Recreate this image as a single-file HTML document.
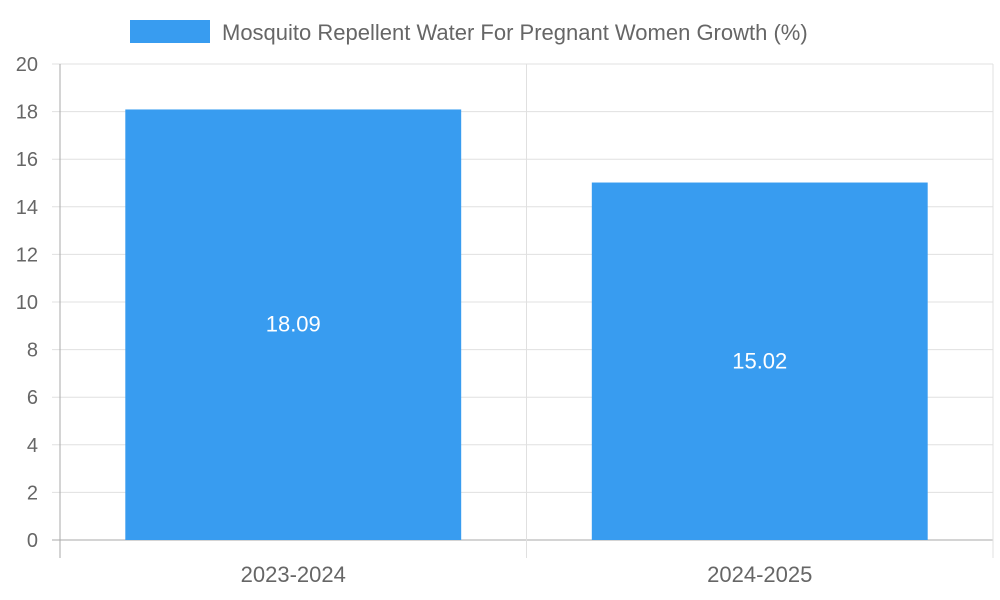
<!DOCTYPE html>
<html><head><meta charset="utf-8"><style>
html,body{margin:0;padding:0;background:#fff;}
svg{display:block;font-family:"Liberation Sans",sans-serif;}
</style></head><body>
<svg id="chart" width="1000" height="600"></svg>
<script>
const categories = ["2023-2024", "2024-2025"];
const values = [18.09, 15.02];
const yTicks = [0, 2, 4, 6, 8, 10, 12, 14, 16, 18, 20];
const seriesName = "Mosquito Repellent Water For Pregnant Women Growth (%)";

const NS = "http://www.w3.org/2000/svg";
const svg = document.getElementById("chart");
const L = 60, R = 993, T = 64, B = 540, yMax = 20;
const y = v => B - (v / yMax) * (B - T);
const band = (R - L) / categories.length;
const xc = i => L + band * (i + 0.5);
function mk(tag, attrs, text) {
  const e = document.createElementNS(NS, tag);
  for (const k in attrs) e.setAttribute(k, attrs[k]);
  if (text !== undefined) e.textContent = text;
  svg.appendChild(e);
  return e;
}
// horizontal grid + y labels
yTicks.forEach(t => {
  const g = mk("line", {x1: L - 8, x2: R, y1: y(t), y2: y(t), stroke: t === 0 ? "#aaa" : "#e0e0e0", "stroke-width": 1});
  
  
  const lb = mk("text", {x: 38, y: y(t) + 7, "text-anchor": "end", "font-size": 20, fill: "#666"}, String(t));
  
  
});
// vertical grid lines
for (let i = 0; i <= categories.length; i++) {
  const xv = L + band * i;
  const v = mk("line", {x1: xv, x2: xv, y1: T, y2: B + 18, stroke: i === 0 ? "#aaa" : "#e0e0e0", "stroke-width": 1});
  
  
}
// bars
const bw = band * 0.72;
categories.forEach((c, i) => {
  const r = mk("rect", {x: xc(i) - bw / 2, y: y(values[i]), width: bw, height: B - y(values[i]), fill: "#389cf0"});
  
  
  const vl = mk("text", {x: xc(i), y: (y(values[i]) + B) / 2 + 7, "text-anchor": "middle", "font-size": 22, fill: "#fff"}, values[i].toFixed(2));
  
  
  const xl = mk("text", {x: xc(i), y: 582, "text-anchor": "middle", "font-size": 22, fill: "#666"}, c);
  
  
});
// legend
const lr = mk("rect", {x: 130, y: 20, width: 80, height: 23, fill: "#389cf0"});


const lt = mk("text", {x: 222, y: 40, "font-size": 22, fill: "#666"}, seriesName);


</script>
</body></html>
